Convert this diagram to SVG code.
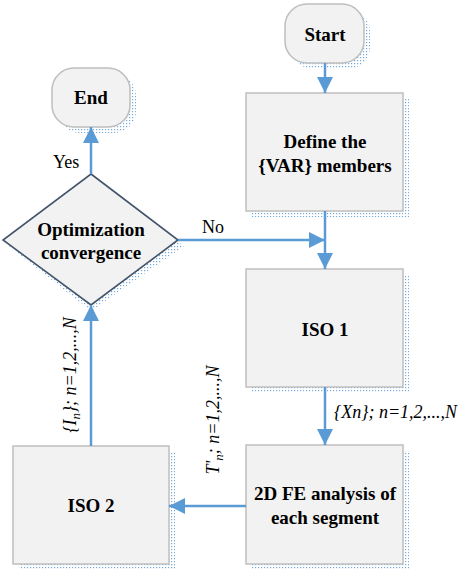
<svg xmlns="http://www.w3.org/2000/svg" width="474" height="579" viewBox="0 0 474 579">
<style>
.box{fill:#f2f2f2;stroke:#bfbfbf;stroke-width:1.5}
.dia{fill:#f2f2f2;stroke:#44546a;stroke-width:1.6}
.sh{fill:url(#dots)}
.t{font-family:'Liberation Serif','Times New Roman','DejaVu Serif',serif;font-weight:bold;font-size:19px;fill:#000;text-anchor:middle}
.l{font-family:'Liberation Serif','Times New Roman','DejaVu Serif',serif;font-size:18px;fill:#000}
.i{font-style:italic}
.c{fill:none;stroke:#5b9bd5;stroke-width:2.5}
</style>
<defs>
<pattern id="dots" width="3" height="3" patternUnits="userSpaceOnUse">
<rect x="0" y="0" width="1.2" height="1.2" fill="#5b9bd5" opacity="0.85"/>
</pattern>
<marker id="ah" markerUnits="userSpaceOnUse" markerWidth="16" markerHeight="16" viewBox="0 0 16 16" refX="16" refY="8" orient="auto">
<path d="M0,0 L16,8 L0,16 Z" fill="#5b9bd5"/>
</marker>
</defs>
<rect width="474" height="579" fill="#fff"/>
<g id="start">
<rect class="sh" x="291" y="10" width="79" height="59" rx="22"/>
<rect class="box" x="285" y="4" width="79" height="59" rx="22"/>
<text class="t" x="325" y="41" font-family="Liberation Serif, serif">Start</text>
</g>
<g id="end">
<rect class="sh" x="58" y="74" width="78" height="59" rx="22"/>
<rect class="box" x="52" y="68" width="78" height="59" rx="22"/>
<text class="t" x="91" y="104">End</text>
</g>
<g id="define">
<rect class="sh" x="252" y="99" width="157" height="118"/>
<rect class="box" x="246" y="93" width="157" height="118"/>
<text class="t" x="325" y="148">Define the</text>
<text class="t" x="325" y="172">{VAR} members</text>
</g>
<g id="iso1">
<rect class="sh" x="252" y="275" width="157" height="118"/>
<rect class="box" x="246" y="269" width="157" height="118"/>
<text class="t" x="325" y="336">ISO 1</text>
</g>
<g id="fe">
<rect class="sh" x="252" y="451" width="157" height="119"/>
<rect class="box" x="246" y="445" width="157" height="119"/>
<text class="t" x="325" y="500">2D FE analysis of</text>
<text class="t" x="325" y="524">each segment</text>
</g>
<g id="iso2">
<rect class="sh" x="19" y="452" width="156" height="118"/>
<rect class="box" x="13" y="446" width="156" height="118"/>
<text class="t" x="91" y="512">ISO 2</text>
</g>
<g id="decision">
<polygon class="sh" points="91,180 184,246 91,311 9,246"/>
<polygon class="dia" points="91,174 178,240 91,305 3,240"/>
<text class="t" x="91" y="236">Optimization</text>
<text class="t" x="91" y="259">convergence</text>
</g>
<g id="connectors">
<line class="c" x1="325" y1="63" x2="325" y2="93" marker-end="url(#ah)"/>
<line class="c" x1="325" y1="211" x2="325" y2="269" marker-end="url(#ah)"/>
<line class="c" x1="178" y1="240" x2="325" y2="240" marker-end="url(#ah)"/>
<line class="c" x1="91" y1="174" x2="91" y2="127" marker-end="url(#ah)"/>
<line class="c" x1="325" y1="387" x2="325" y2="445" marker-end="url(#ah)"/>
<line class="c" x1="246" y1="506" x2="169" y2="506" marker-end="url(#ah)"/>
<line class="c" x1="91" y1="446" x2="91" y2="305" marker-end="url(#ah)"/>
<text class="l" x="53" y="168">Yes</text>
<text class="l" x="202" y="233">No</text>
<text class="l i" x="334" y="418">{Xn}; n=1,2,...,N</text>
<text class="l i" text-anchor="middle" transform="translate(76,375) rotate(-90)">{I<tspan font-size="13" baseline-shift="-4">n</tspan>}; n=1,2,...,N</text>
<text class="l i" text-anchor="middle" transform="translate(219,420) rotate(-90)">T'<tspan font-size="13" baseline-shift="-4">n</tspan>; n=1,2,...,N</text>
</g>
</svg>
